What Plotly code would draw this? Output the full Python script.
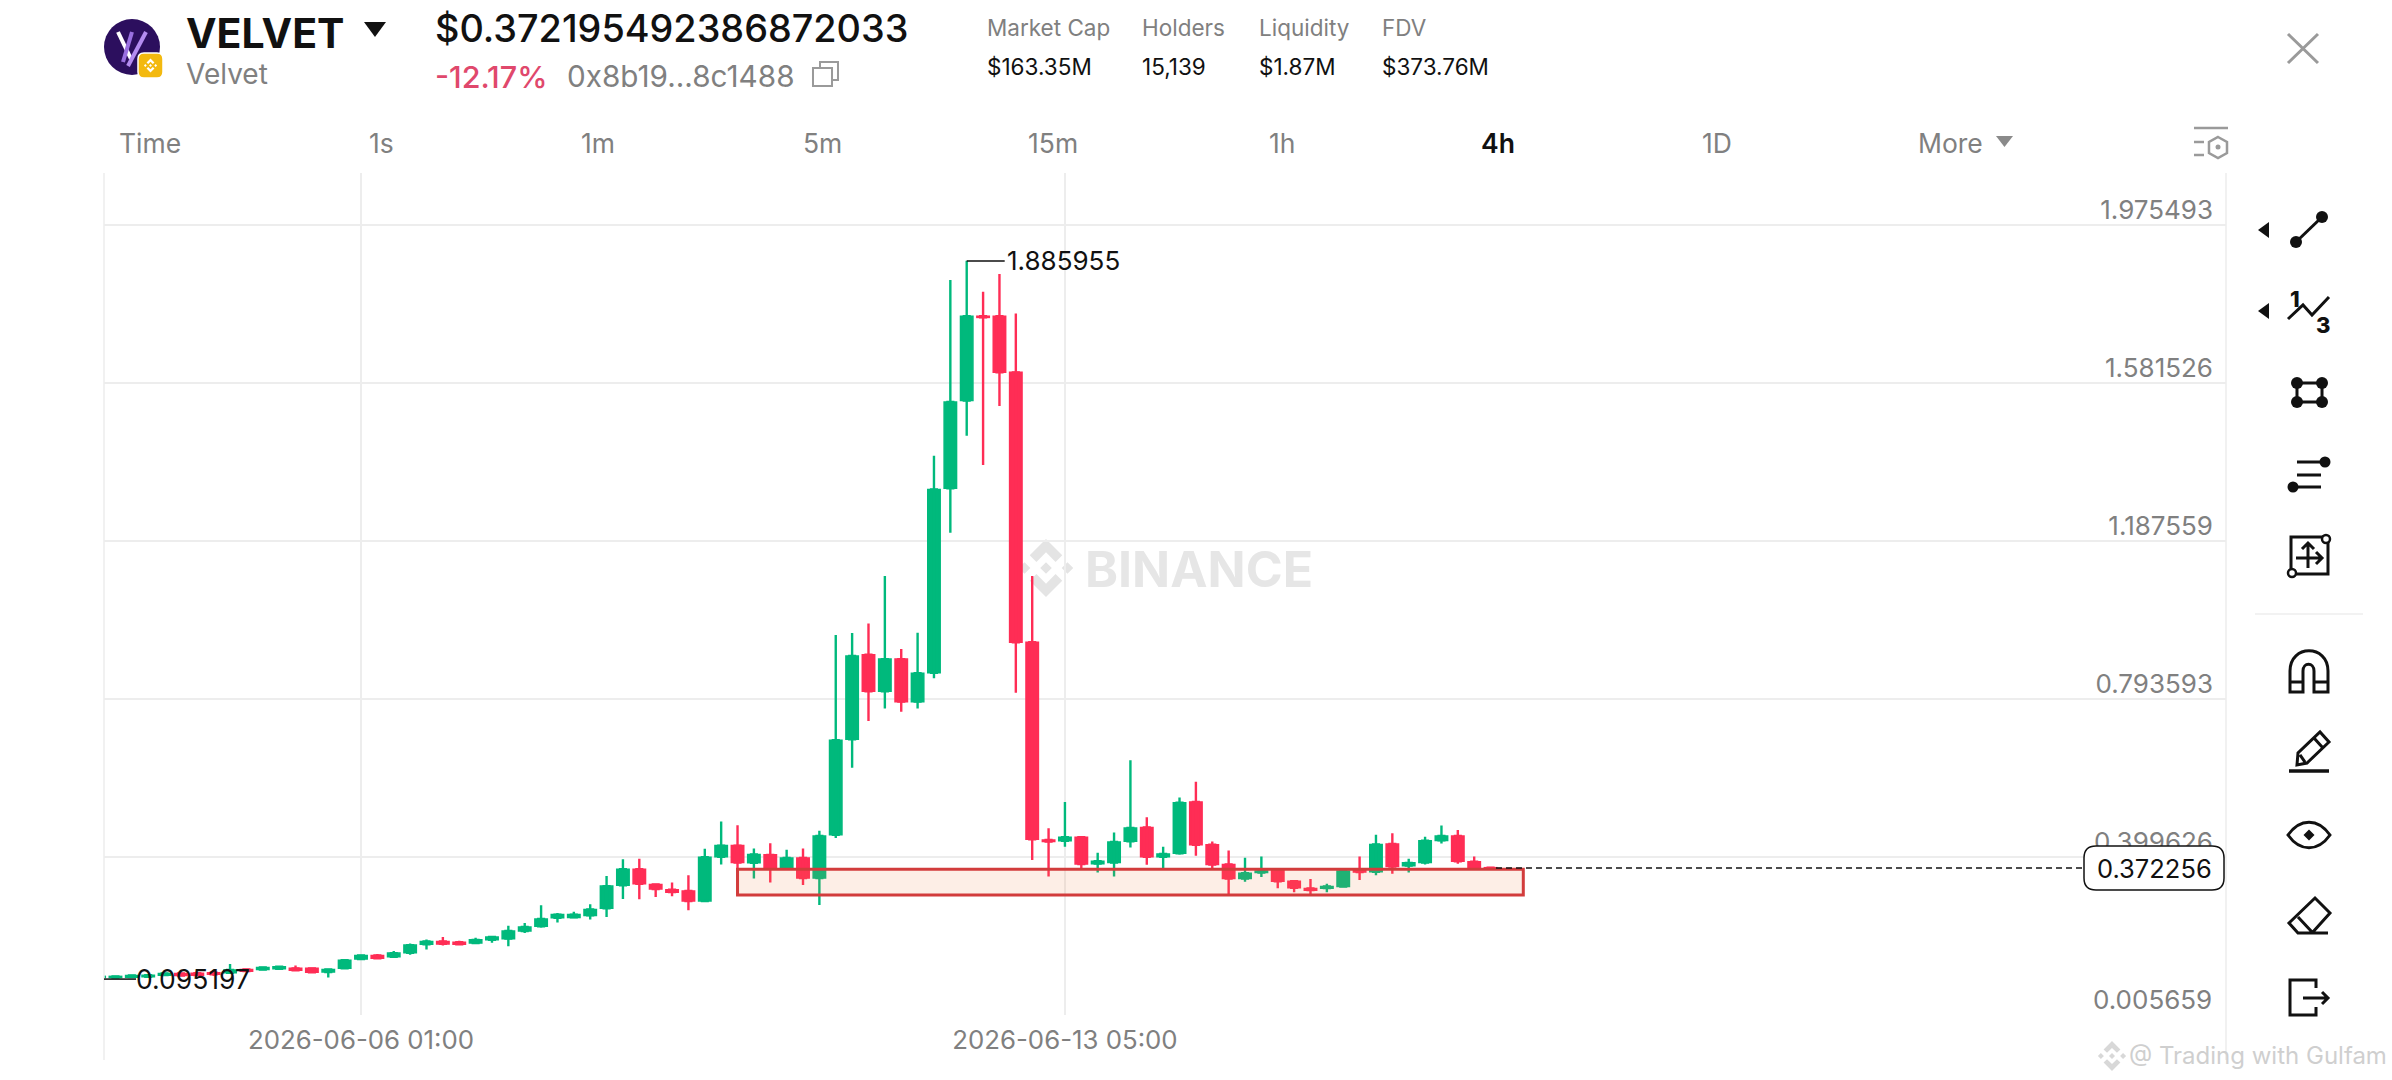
import pandas as pd
import plotly.graph_objects as go

W, H = 2392, 1080
FONT = "Inter"
GREEN = "#00B97C"
RED = "#FF2D55"
GREY = "#808080"
GRID = "#EDEDED"

# 4h candles, first one is 2026-06-03 09:00
first_candle = "2026-06-03 09:00"
opens = [.099, .099, .100, .101, .105, .109, .110, .111, .111, .119, .119, .121, .122, .122, .113, .122,
         .145, .154, .151, .161, .182, .189, .187, .185, .193, .196, .215, .227, .248, .249, .254, .272,
         .329, .369, .331, .318, .315, .290, .400, .428, .385, .405, .374, .397, .347, .455, .693, .904,
         .813, .893, .787, .859, 1.319, 1.538, 1.748, 1.748, 1.608, .935, .442, .440, .449, .383, .386,
         .439, .473, .400, .409, .537, .430, .381, .346, .361, .367, .339, .321, .322, .326, .369, .363,
         .432, .378, .386, .441, .452, .388, .373]
highs = [.103, .104, .105, .106, .110, .110, .112, .118, .133, .120, .125, .129, .129, .124, .121, .145,
         .157, .158, .165, .184, .194, .200, .191, .198, .203, .228, .235, .279, .260, .263, .282, .352,
         .394, .395, .332, .336, .354, .420, .488, .479, .421, .434, .418, .421, .465, .953, .958, .982,
         1.100, .918, .959, 1.400, 1.838, 1.886, 1.809, 1.853, 1.755, 1.100, .471, .537, .451, .410, .461,
         .641, .499, .425, .548, .587, .438, .416, .398, .401, .369, .342, .345, .333, .367, .401, .455,
         .459, .395, .450, .478, .467, .401, .376]
lows = [.0952, .098, .100, .100, .104, .101, .103, .103, .108, .115, .117, .120, .115, .111, .099, .121,
        .142, .146, .149, .156, .169, .179, .179, .182, .186, .177, .210, .223, .236, .247, .244, .250,
        .295, .294, .300, .302, .267, .288, .381, .305, .346, .336, .371, .330, .280, .447, .622, .739,
        .770, .762, .770, .845, 1.208, 1.450, 1.377, 1.524, .809, .392, .351, .425, .369, .361, .351,
        .423, .380, .371, .405, .403, .367, .305, .338, .350, .322, .312, .305, .312, .326, .342, .354,
        .358, .361, .381, .433, .383, .369, .367]
closes = [.102, .102, .104, .105, .109, .104, .105, .107, .118, .115, .124, .126, .117, .112, .119, .142,
          .154, .147, .160, .180, .189, .183, .182, .193, .200, .215, .225, .245, .256, .256, .269, .327,
          .369, .333, .320, .312, .290, .399, .428, .386, .406, .372, .397, .347, .452, .691, .901, .813,
          .893, .787, .858, 1.316, 1.534, 1.748, 1.745, 1.608, .935, .444, .438, .449, .382, .389, .437,
          .472, .400, .407, .535, .430, .381, .346, .359, .365, .339, .323, .317, .326, .365, .362, .431,
          .376, .385, .440, .452, .389, .371, .372]

y_ticks = [1.975493, 1.581526, 1.187559, 0.793593, 0.399626, 0.005659]
y_labels = ["1.975493", "1.581526", "1.187559", "0.793593", "0.399626", ""]
bottom_label = "0.005659"
x_ticks = ["2026-06-06 01:00", "2026-06-13 05:00"]
tabs = ["Time", "1s", "1m", "5m", "15m", "1h", "4h", "1D", "More"]
tab_x = [150, 381, 598, 822, 1053, 1282, 1498, 1717, 1950]
stats = [("Market Cap", "$163.35M", 988), ("Holders", "15,139", 1143),
         ("Liquidity", "$1.87M", 1260), ("FDV", "$373.76M", 1383)]
high_price = 1.885955
low_price = 0.095197
last_price = 0.372256
zone_top, zone_bottom = 0.3689, 0.3049
zone_start, zone_end = "2026-06-09 21:00", "2026-06-17 21:00"
peak_time = "2026-06-12 05:00"

dates = pd.date_range(first_candle, periods=len(opens), freq="4h")
body_ms = 0.76 * 4 * 3600 * 1000


def px(x):
    return x / W


def py(y):
    return 1 - y / H


def to_paper(d):
    # "M 10 20 L 30 40" in page pixels -> paper coordinates
    out, is_x = [], True
    for tok in d.split():
        if tok.isalpha():
            out.append(tok)
            is_x = True
        else:
            out.append(f"{px(float(tok)):.5f}" if is_x else f"{py(float(tok)):.5f}")
            is_x = not is_x
    return " ".join(out)


fig = go.Figure()
# candlestick boxes can't get wide enough, so bodies are bars and the wicks come from the candlestick
body_colors = [GREEN if c >= o else RED for o, c in zip(opens, closes)]
fig.add_trace(go.Bar(
    x=dates,
    base=[min(o, c) for o, c in zip(opens, closes)],
    y=[abs(c - o) for o, c in zip(opens, closes)],
    width=body_ms,
    marker=dict(color=body_colors, line=dict(color=body_colors, width=1.5)),
    showlegend=False, hoverinfo="skip",
))
fig.add_trace(go.Candlestick(
    x=dates, open=opens, high=highs, low=lows, close=closes,
    whiskerwidth=0,
    increasing=dict(line=dict(color=GREEN, width=2.4), fillcolor=GREEN),
    decreasing=dict(line=dict(color=RED, width=2.4), fillcolor=RED),
    showlegend=False,
))


def icon(d, width=3.0, color="#111111", fill=None, layer="above"):
    fig.add_shape(type="path", path=to_paper(d), xref="paper", yref="paper", layer=layer,
                  line=dict(color=color, width=width), fillcolor=fill)


def dot(x, y, r, fill="#111111", width=0, color="#111111"):
    fig.add_shape(type="circle", xref="paper", yref="paper", x0=px(x - r), x1=px(x + r),
                  y0=py(y + r), y1=py(y - r), fillcolor=fill, line=dict(color=color, width=width))


def text(x, y, s, size=22, color="#111111", anchor="left", weight=400):
    if anchor == "left":
        x -= 2
    fig.add_annotation(x=px(x), y=py(y), xref="paper", yref="paper", text=s, showarrow=False,
                       xanchor=anchor, yanchor="middle", borderpad=0,
                       font=dict(family=FONT, size=size, color=color, weight=weight))


def binance_mark(cx, cy, s, color, layer="above"):
    for dx, dy in [(0, 0), (-.74, 0), (.74, 0)]:
        x, y, h = cx + dx * s, cy + dy * s, .2 * s
        icon(f"M {x} {y-h} L {x+h} {y} L {x} {y+h} L {x-h} {y} Z", width=0, fill=color, color=color, layer=layer)
    for sgn in (-1, 1):
        pts = [(0, 1), (.56, .44), (.33, .21), (0, .54), (-.33, .21), (-.56, .44)]
        d = "M " + " L ".join(f"{cx+a*s} {cy+sgn*b*s}" for a, b in pts) + " Z"
        icon(d, width=0, fill=color, color=color, layer=layer)


# chart furniture
binance_mark(1046, 568, 29, "#E4E4E4", layer="below")
fig.add_annotation(x=px(1083), y=py(569), xref="paper", yref="paper", text="BINANCE", showarrow=False,
                   xanchor="left", yanchor="middle", font=dict(family=FONT, size=50, color="#E6E6E6", weight=700))
for edge in (104, 2226):
    icon(f"M {edge} 173 L {edge} 1060", width=1.5, color=GRID)

# support zone
fig.add_shape(type="rect", xref="x", yref="y", x0=zone_start, x1=zone_end, y0=zone_bottom, y1=zone_top,
              fillcolor="rgba(240,120,60,0.13)", line=dict(color="#D23C3C", width=3), layer="above")

# inside labels on the range edge get dropped by plotly, this one goes in by hand
fig.add_annotation(x=px(2214), y=y_ticks[-1], xref="paper", yref="y", text=bottom_label, showarrow=False,
                   xanchor="right", yanchor="middle", yshift=16, font=dict(family=FONT, size=26, color=GREY))

# last price line and tag
fig.add_shape(type="line", xref="paper", yref="y", x0=px(1496), x1=px(2084), y0=last_price, y1=last_price,
              line=dict(color="#111111", width=1.5, dash="6px,4px"))
icon("M 2096 846 L 2212 846 C 2220 846 2224 850 2224 858 L 2224 878 C 2224 886 2220 890 2212 890 "
     "L 2096 890 C 2088 890 2084 886 2084 878 L 2084 858 C 2084 850 2088 846 2096 846 Z",
     width=1.5, fill="#FFFFFF")
text(2154, 868, f"{last_price:.6f}", size=25.5, anchor="center")

# high / low tags
fig.add_annotation(x=peak_time, y=high_price, xref="x", yref="y", text=f"{high_price:.6f}", showarrow=True,
                   arrowhead=0, arrowwidth=1.5, arrowcolor="#111111", ax=38, ay=0, xanchor="left",
                   yanchor="middle", standoff=0, font=dict(family=FONT, size=26, color="#111111"))
fig.add_shape(type="line", xref="paper", yref="y", x0=px(104), x1=px(136), y0=low_price, y1=low_price,
              line=dict(color="#111111", width=1.5))
fig.add_annotation(x=px(134), y=low_price, xref="paper", yref="y", text=f"{low_price:.6f}", showarrow=False,
                   xanchor="left", yanchor="middle", font=dict(family=FONT, size=26.5, color="#111111"))

# header
dot(132, 47, 28, fill="#2C0F5E")
icon("M 118 32 L 131 59", width=4, color="#FFFFFF")
icon("M 146 32 L 128 66", width=4, color="#B48CF0")
icon("M 132 32 L 123 62", width=4, color="#9A70E0")
icon("M 144 53 L 157 53 C 161 53 163 55 163 59 L 163 72 C 163 76 161 78 157 78 L 144 78 C 140 78 138 76 138 72 "
     "L 138 59 C 138 55 140 53 144 53 Z", width=1.5, color="#FFFFFF", fill="#F3B90F")
binance_mark(150.5, 65.5, 7, "#FFFFFF")
text(187, 33, "VELVET", size=41, weight=700)
icon("M 364 22 L 386 22 L 375 37 Z", width=0, fill="#111111")
text(187, 74, "Velvet", size=28, color=GREY)
text(436, 28, "$0.372195492386872033", size=37.8, weight=500)
text(436, 76, "-12.17%", size=30.5, color="#E0486C", weight=500)
text(568, 76, "0x8b19...8c1488", size=29.7, color=GREY)
icon("M 820 68 L 820 62 L 838 62 L 838 80 L 832 80", width=2, color="#9A9A9A")
icon("M 813 68 L 832 68 L 832 86 L 813 86 Z", width=2, color="#9A9A9A")
for name, val, x in stats:
    text(x, 28, name, size=22.5, color=GREY)
    text(x, 67, val, size=22.5)
icon("M 2288 34 L 2318 63 M 2318 34 L 2288 63", width=3, color="#9A9A9A")

# timeframe row
for name, x in zip(tabs, tab_x):
    active = name == "4h"
    text(x, 143, name, size=26.5, color="#111111" if active else GREY, anchor="center", weight=600 if active else 400)
icon("M 1996 136 L 2013 136 L 2004.5 147 Z", width=0, fill="#8A8A8A")
icon("M 2194 128 L 2228 128 M 2194 142 L 2204 142 M 2194 155 L 2204 155", width=2.5, color="#9A9A9A")
icon("M 2218 137 L 2227 142 L 2227 153 L 2218 158 L 2209 153 L 2209 142 Z", width=2.5, color="#9A9A9A")
dot(2218, 147, 2.5, fill="#9A9A9A")

# drawing tools
icon("M 2258 230 L 2269 222 L 2269 238 Z", width=0, fill="#111111")
icon("M 2296 242 L 2322 217")
dot(2322, 217, 6)
dot(2296, 242, 6)
icon("M 2258 311 L 2269 303 L 2269 319 Z", width=0, fill="#111111")
icon("M 2288 319 L 2303 305 L 2312 315 L 2329 297")
text(2295, 299, "1", size=22, anchor="center", weight=800)
text(2323, 325, "3", size=22, anchor="center", weight=800)
icon("M 2297 383 L 2322 383 L 2322 402 L 2297 402 Z")
for cx, cy in [(2297, 383), (2322, 383), (2297, 402), (2322, 402)]:
    dot(cx, cy, 6)
icon("M 2297 462 L 2322 462 M 2297 475 L 2321 475 M 2297 487 L 2321 487")
dot(2325, 462, 5.5)
dot(2293, 487, 5.5)
icon("M 2291 537 L 2328 537 L 2328 574 L 2291 574 Z")
dot(2326, 539, 4, fill="#FFFFFF", width=2.5)
dot(2292, 573, 4, fill="#FFFFFF", width=2.5)
icon("M 2308 568 L 2308 543 M 2302 549 L 2308 543 L 2314 549 M 2296 558 L 2322 558 M 2316 552 L 2322 558 L 2316 564")
icon("M 2255 614 L 2363 614", width=1.5, color="#EEEEEE")
icon("M 2290 692 L 2290 671 C 2290 644 2328 644 2328 671 L 2328 692 L 2314 692 L 2314 671 C 2314 662 2303 662 "
     "2303 671 L 2303 692 Z M 2290 682 L 2303 682 M 2314 682 L 2328 682")
icon("M 2289 771 L 2329 771", width=3.5)
icon("M 2297 765 L 2298 753 L 2320 732 L 2329 742 L 2307 763 Z M 2314 738 L 2323 748 M 2300 755 L 2305 762")
icon("M 2288 835 C 2300 818 2318 818 2330 835 C 2318 852 2300 852 2288 835 Z")
icon("M 2309 829.5 L 2314.5 835 L 2309 840.5 L 2303.5 835 Z", width=0, fill="#111111")
icon("M 2315 898 L 2330 913 L 2312 933 L 2298 933 L 2289 923 Z M 2298 917 L 2312 932 M 2312 933 L 2328 933")
icon("M 2316 988 L 2316 980 L 2290 980 L 2290 1015 L 2316 1015 L 2316 1007 M 2303 998 L 2328 998 "
     "M 2322 992 L 2328 998 L 2322 1004")

# repost watermark
binance_mark(2112, 1056, 15, "#D8D8D8")
text(2130, 1055, "@ Trading with Gulfam", size=24, color="#CFCFCF")

fig.update_layout(
    width=W, height=H,
    margin=dict(l=0, r=0, t=0, b=0),
    paper_bgcolor="#FFFFFF", plot_bgcolor="#FFFFFF",
    font=dict(family=FONT, color=GREY),
    showlegend=False,
    boxgap=0.5,
    xaxis=dict(
        domain=[px(104), px(2226)],
        type="date",
        range=["2026-06-03 10:12", "2026-06-25 00:42"],
        rangeslider=dict(visible=False),
        tickvals=x_ticks, ticktext=x_ticks,
        ticklabelstandoff=7,
        tickfont=dict(family=FONT, size=25.8, color=GREY),
        showgrid=True, gridcolor=GRID, gridwidth=1.5,
        showline=False, zeroline=False, ticks="", ticklen=0,
    ),
    yaxis=dict(
        domain=[py(1015), py(173)],
        side="right",
        range=[0.005659, 2.1051],
        tickvals=y_ticks, ticktext=y_labels,
        ticklabelposition="inside",
        ticklabelshift=-15,
        ticklabelstandoff=10,
        tickfont=dict(family=FONT, size=26, color=GREY),
        showgrid=True, gridcolor=GRID, gridwidth=1.5,
        showline=False, zeroline=False, ticks="",
    ),
)

fig.write_html("out.html", config={"displayModeBar": False},
               post_script="document.body.style.margin='0';document.body.style.overflow='hidden';")
